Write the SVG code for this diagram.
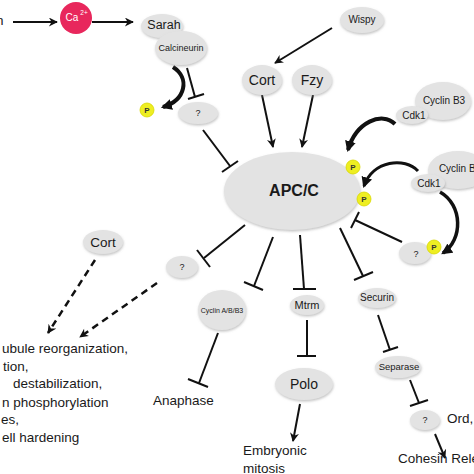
<svg xmlns="http://www.w3.org/2000/svg" width="474" height="474" viewBox="0 0 474 474">
<style>
.n{fill:#e3e3e3;filter:url(#sh)}
.t{font-family:"Liberation Sans",Arial,sans-serif;fill:#1a1a1a;text-anchor:middle}
.l{font-family:"Liberation Sans",Arial,sans-serif;fill:#1a1a1a;font-size:13.5px}
.c{stroke:#111;stroke-width:2;fill:none}
.a{stroke:#111;stroke-width:2;fill:none;marker-end:url(#ah)}
.d{stroke:#111;stroke-width:2.5;fill:none;stroke-dasharray:7 5;marker-end:url(#ah)}
.k{stroke:#111;fill:none;marker-end:url(#hk)}
.p{fill:#eeee22;stroke:#d8d800;stroke-width:0.8}
.pt{font-family:"Liberation Sans",Arial,sans-serif;font-weight:bold;font-size:8px;fill:#333;text-anchor:middle}
</style>
<defs>
<filter id="sh" x="-20%" y="-20%" width="140%" height="150%"><feDropShadow dx="0.5" dy="1.5" stdDeviation="1" flood-color="#888" flood-opacity="0.5"/></filter>
<marker id="ah" viewBox="0 0 10 10" markerUnits="userSpaceOnUse" markerWidth="10" markerHeight="9" refX="9" refY="5" orient="auto"><path d="M0,0 L10,5 L0,10 L3,5 z" fill="#111"/></marker>
<marker id="hk" viewBox="0 0 10 10" markerUnits="userSpaceOnUse" markerWidth="11" markerHeight="11" refX="8" refY="5" orient="auto"><path d="M0,0 L10,5 L0,10 z" fill="#111"/></marker>
</defs>
<rect width="474" height="474" fill="#fff"/>

<g id="connectors">
<line class="a" x1="13" y1="22" x2="57" y2="22"/>
<line class="a" x1="92" y1="22" x2="133" y2="22"/>
<line class="a" x1="332" y1="28" x2="275" y2="63"/>
<line class="a" x1="262" y1="95" x2="273" y2="147"/>
<line class="a" x1="313" y1="95" x2="302" y2="147"/>
<path class="k" style="stroke-width:4" d="M173,67 C190,78 186,100 163,107"/>
<line class="c" x1="187" y1="68" x2="195" y2="97"/>
<line class="c" x1="188" y1="99" x2="204" y2="94"/>
<line class="c" x1="203" y1="130" x2="230" y2="166"/>
<line class="c" x1="222" y1="172" x2="238" y2="161"/>
<path class="k" style="stroke-width:4" d="M395,124 C382,111 356,122 348,150"/>
<path class="k" style="stroke-width:3" d="M418,171 C405,157 373,160 364,186"/>
<path class="k" style="stroke-width:3.5" d="M440,192 C463,205 463,240 443,253"/>
<line class="c" x1="402" y1="242" x2="355" y2="220"/>
<line class="c" x1="351" y1="228" x2="359" y2="212"/>
<line class="c" x1="245" y1="225" x2="204" y2="258"/>
<line class="c" x1="197" y1="250" x2="210" y2="267"/>
<line class="c" x1="273" y1="237" x2="254" y2="286"/>
<line class="c" x1="244" y1="282" x2="263" y2="290"/>
<line class="c" x1="300" y1="235" x2="304" y2="289"/>
<line class="c" x1="293" y1="289" x2="316" y2="289"/>
<line class="c" x1="340" y1="228" x2="363" y2="276"/>
<line class="c" x1="354" y1="280" x2="373" y2="272"/>
<line class="c" x1="378" y1="315" x2="390" y2="350"/>
<line class="c" x1="383" y1="352" x2="398" y2="347"/>
<line class="c" x1="410" y1="380" x2="419" y2="403"/>
<line class="c" x1="410" y1="406" x2="428" y2="400"/>
<line class="a" x1="435" y1="434" x2="445" y2="458"/>
<line class="c" x1="218" y1="333" x2="199" y2="383"/>
<line class="c" x1="188" y1="379" x2="208" y2="387"/>
<line class="c" x1="307" y1="320" x2="307" y2="356"/>
<line class="c" x1="297" y1="356" x2="316" y2="356"/>
<line class="a" x1="300" y1="404" x2="293" y2="441"/>
<line class="d" x1="95" y1="260" x2="48" y2="333"/>
<line class="d" x1="157" y1="283" x2="80" y2="337"/>
</g>

<g id="ca">
<circle cx="76" cy="18" r="16" fill="#e8275c"/>
<text x="72" y="21" font-family="Liberation Sans,Arial,sans-serif" font-size="10" fill="#fff" text-anchor="middle">Ca</text>
<text x="84" y="15" font-family="Liberation Sans,Arial,sans-serif" font-size="6.5" fill="#fff" text-anchor="middle">2+</text>
</g>
<g id="sarah"><ellipse class="n" cx="162" cy="26" rx="21" ry="12"/><text class="t" x="164" y="29" font-size="12.5">Sarah</text></g>
<g id="calcineurin"><ellipse class="n" cx="181" cy="48" rx="26" ry="17"/><text class="t" x="181" y="51" font-size="9">Calcineurin</text></g>
<g id="q1"><ellipse class="n" cx="198" cy="113" rx="20" ry="11"/><text class="t" x="198" y="116" font-size="9">?</text></g>
<g id="p1"><circle class="p" cx="147" cy="110" r="7"/><text class="pt" x="147" y="113">P</text></g>
<g id="wispy"><ellipse class="n" cx="362" cy="20" rx="22" ry="13"/><text class="t" x="362" y="23" font-size="10">Wispy</text></g>
<g id="cort1"><ellipse class="n" cx="262" cy="80" rx="20" ry="15"/><text class="t" x="262" y="85" font-size="14">Cort</text></g>
<g id="fzy"><ellipse class="n" cx="312" cy="80" rx="20" ry="15"/><text class="t" x="312" y="85" font-size="14">Fzy</text></g>
<g id="cyclinB3a"><ellipse class="n" cx="443" cy="101" rx="28" ry="19"/><text class="t" x="444" y="104" font-size="10">Cyclin B3</text></g>
<g id="cdk1a"><ellipse class="n" cx="412" cy="115" rx="16" ry="9"/><text class="t" x="414" y="119" font-size="10">Cdk1</text></g>
<g id="apcc"><ellipse class="n" cx="292" cy="191" rx="68" ry="39"/><text class="t" x="294" y="196" font-size="16" font-weight="bold">APC/C</text></g>
<g id="p2"><circle class="p" cx="353" cy="167" r="7"/><text class="pt" x="353" y="170">P</text></g>
<g id="p3"><circle class="p" cx="364" cy="199" r="7"/><text class="pt" x="364" y="202">P</text></g>
<g id="cyclinB3b"><ellipse class="n" cx="458" cy="170" rx="30" ry="19"/><text class="t" x="460" y="172" font-size="10">Cyclin B3</text></g>
<g id="cdk1b"><ellipse class="n" cx="428" cy="183" rx="17" ry="9"/><text class="t" x="429" y="187" font-size="10">Cdk1</text></g>
<g id="q2"><ellipse class="n" cx="415" cy="253" rx="16" ry="11"/><text class="t" x="416" y="257" font-size="9">?</text></g>
<g id="p4"><circle class="p" cx="434" cy="247" r="7"/><text class="pt" x="434" y="250">P</text></g>
<g id="cort2"><ellipse class="n" cx="103" cy="242" rx="20" ry="12"/><text class="t" x="103" y="247" font-size="13.5">Cort</text></g>
<g id="q3"><ellipse class="n" cx="182" cy="267" rx="16" ry="11"/><text class="t" x="182" y="270" font-size="9">?</text></g>
<g id="cyclinABB3"><ellipse class="n" cx="222" cy="310" rx="24" ry="20"/><text class="t" x="222" y="313" font-size="7">Cyclin A/B/B3</text></g>
<g id="mtrm"><ellipse class="n" cx="307" cy="305" rx="17" ry="10"/><text class="t" x="307" y="309" font-size="11">Mtrm</text></g>
<g id="securin"><ellipse class="n" cx="377" cy="298" rx="19" ry="10"/><text class="t" x="377" y="301" font-size="10">Securin</text></g>
<g id="separase"><ellipse class="n" cx="398" cy="367" rx="23" ry="11"/><text class="t" x="399" y="370" font-size="9.5">Separase</text></g>
<g id="q4"><ellipse class="n" cx="425" cy="420" rx="15" ry="10"/><text class="t" x="425" y="423" font-size="9">?</text></g>
<g id="polo"><ellipse class="n" cx="304" cy="384" rx="29" ry="16"/><text class="t" x="304" y="389" font-size="14">Polo</text></g>

<g id="labels">
<text class="l" x="-4" y="25">n</text>
<text class="l" x="2" y="353">ubule reorganization,</text>
<text class="l" x="3" y="371">tion,</text>
<text class="l" x="13" y="388">destabilization,</text>
<text class="l" x="2" y="407">n phosphorylation</text>
<text class="l" x="1" y="424">es,</text>
<text class="l" x="2" y="442">ell hardening</text>
<text class="l" x="153" y="405">Anaphase</text>
<text class="l" x="243" y="455">Embryonic</text>
<text class="l" x="243" y="473">mitosis</text>
<text class="l" x="447" y="423">Ord,</text>
<text class="l" x="398" y="463">Cohesin Release</text>
</g>
</svg>
